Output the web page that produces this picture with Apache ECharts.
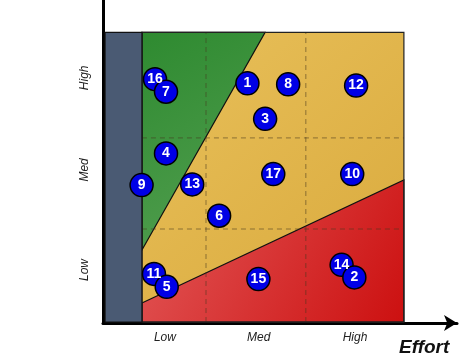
<!DOCTYPE html>
<html>
<head>
<meta charset="utf-8">
<script src="https://cdn.jsdelivr.net/npm/echarts@6/dist/echarts.min.js"></script>
<style>html,body{margin:0;padding:0;background:#fff;}#c{width:474px;height:360px;}</style>
</head>
<body>
<div id="c"></div>
<script>
// ---- data (axis units: 0..100 on both axes) ----
var itemIds   = ['16', '7', '1', '8', '12', '3', '4', '9', '13', '17', '10', '6', '11', '5', '15', '14', '2'];
var effortX   = [14.7, 17.8, 40.8, 52.3, 71.5, 45.8, 17.8, 10.9, 25.2, 48.1, 70.4, 32.8, 14.4, 18.0, 43.9, 67.4, 71.0];
var valueY    = [75.5, 71.6, 74.2, 73.9, 73.5, 63.2, 52.5, 42.7, 42.9, 46.1, 46.1, 33.2, 15.2, 11.2, 13.6, 18.0, 14.1];

var xTickPos    = [17.5, 44.0, 71.2];
var xTickLabels = ['Low', 'Med', 'High'];
var yTickPos    = [16.4, 47.4, 75.9];
var yTickLabels = ['Low', 'Med', 'High'];

// region polygons (x, y pairs in axis units)
var plotBox   = [[11, 0.3], [85, 0.3], [85, 90], [11, 90]];
var greenZone = [[11, 90], [45.8, 90], [11, 22.6]];
var redZone   = [[11, 6.2], [85, 44.3], [85, 0.3], [11, 0.3]];
var sideBar   = [[0.6, 0.3], [11, 0.3], [11, 90], [0.6, 90]];
var dashX     = [29.1, 57.3];
var dashY     = [29.1, 57.3];

var chart = echarts.init(document.getElementById('c'), null, {renderer: 'canvas'});

function polySeries(pts, style, z) {
  return {
    type: 'custom', z: z, silent: true,
    data: [0],
    renderItem: function (params, api) {
      return {
        type: 'polygon',
        shape: { points: pts.map(function (p) { return api.coord(p); }) },
        style: style
      };
    }
  };
}

var series = [];
series.push(polySeries(plotBox, {
  fill: new echarts.graphic.LinearGradient(0, 0, 1, 1, [
    {offset: 0, color: '#e8c05a'}, {offset: 1, color: '#d9a93c'}])
}, 1));
series.push(polySeries(greenZone, {
  fill: new echarts.graphic.LinearGradient(0, 0, 1, 1, [
    {offset: 0, color: '#2e8a30'}, {offset: 1, color: '#55a052'}]),
  stroke: '#111', lineWidth: 1.2
}, 2));
series.push(polySeries(redZone, {
  fill: new echarts.graphic.LinearGradient(0, 0, 1, 1, [
    {offset: 0, color: '#e35a5a'}, {offset: 1, color: '#cc1010'}]),
  stroke: '#111', lineWidth: 1.2
}, 2));

// dashed grid lines
series.push({
  type: 'custom', z: 3, silent: true, data: [0],
  renderItem: function (params, api) {
    var children = [];
    dashX.forEach(function (x) {
      var a = api.coord([x, plotBox[0][1]]), b = api.coord([x, plotBox[2][1]]);
      children.push({type: 'line', shape: {x1: a[0], y1: a[1], x2: b[0], y2: b[1]},
        style: {stroke: 'rgba(70,55,30,0.55)', lineWidth: 1, lineDash: [5, 4]}});
    });
    dashY.forEach(function (y) {
      var a = api.coord([plotBox[0][0], y]), b = api.coord([plotBox[1][0], y]);
      children.push({type: 'line', shape: {x1: a[0], y1: a[1], x2: b[0], y2: b[1]},
        style: {stroke: 'rgba(70,55,30,0.55)', lineWidth: 1, lineDash: [5, 4]}});
    });
    return {type: 'group', children: children};
  }
});

// outline of the plot box
series.push(polySeries(plotBox, {fill: 'none', stroke: '#222', lineWidth: 1.2}, 4));
// side bar
series.push(polySeries(sideBar, {fill: '#4a5a73', stroke: '#111', lineWidth: 1.2}, 5));

// points
series.push({
  type: 'scatter', z: 10,
  symbol: 'circle', symbolSize: 23,
  itemStyle: {color: '#0000e6', borderColor: '#000', borderWidth: 1.5, opacity: 1},
  label: {
    show: true, position: 'inside', color: '#fff', fontWeight: 'bold', fontSize: 14,
    fontFamily: 'Liberation Sans, Arial, sans-serif',
    formatter: function (p) { return p.name; }
  },
  emphasis: {disabled: true},
  data: itemIds.map(function (id, i) { return {name: id, value: [effortX[i], valueY[i]]}; })
});

chart.setOption({
  animation: false,
  backgroundColor: '#fff',
  title: {
    text: 'Effort', left: 394, top: 333,
    textStyle: {fontSize: 19, fontWeight: 'bold', fontStyle: 'italic', color: '#111',
      fontFamily: 'Liberation Sans, Arial, sans-serif'}
  },
  grid: {left: 103, top: 0, width: 354, height: 323, containLabel: false},
  xAxis: {
    type: 'value', min: 0, max: 100,
    axisLine: {show: true, onZero: false, symbol: ['none', 'arrow'], symbolSize: [12, 13], symbolOffset: [0, 0],
      lineStyle: {color: '#000', width: 3}},
    axisTick: {show: false},
    splitLine: {show: false},
    axisLabel: {
      customValues: xTickPos, margin: 9,
      fontSize: 12, fontStyle: 'italic', color: '#222', fontFamily: 'Liberation Sans, Arial, sans-serif',
      formatter: function (v) { var i = xTickPos.indexOf(v); return i >= 0 ? xTickLabels[i] : ''; }
    }
  },
  yAxis: {
    type: 'value', min: 0, max: 100,
    axisLine: {show: true, onZero: false, lineStyle: {color: '#000', width: 3}},
    axisTick: {show: false},
    splitLine: {show: false},
    axisLabel: {
      customValues: yTickPos, margin: 12, rotate: 90,
      fontSize: 12, fontStyle: 'italic', color: '#222', fontFamily: 'Liberation Sans, Arial, sans-serif',
      formatter: function (v) { var i = yTickPos.indexOf(v); return i >= 0 ? yTickLabels[i] : ''; }
    }
  },
  series: series
});
</script>
</body>
</html>
